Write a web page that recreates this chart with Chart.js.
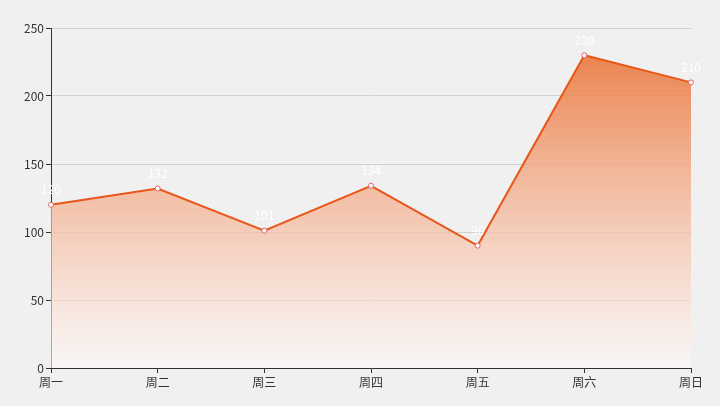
<!DOCTYPE html>
<html>
<head>
<meta charset="utf-8">
<script src="https://cdn.jsdelivr.net/npm/chart.js@4"></script>
<style>
  html, body { margin: 0; padding: 0; background: #f0f0f0; }
  #wrap { width: 720px; height: 406px; }
</style>
</head>
<body>
<div id="wrap"><canvas id="c" width="720" height="406"></canvas></div>
<script>
// dados do gráfico
const days = ["周一", "周二", "周三", "周四", "周五", "周六", "周日"];
const values = [120, 132, 101, 134, 90, 230, 210];
const yTicks = [0, 50, 100, 150, 200, 250];

const FONT = '"Noto Sans CJK SC", "Noto Sans", sans-serif';

// rótulos brancos acima dos pontos
const valueLabels = {
  id: "valueLabels",
  afterDatasetsDraw(chart) {
    const ctx = chart.ctx;
    const meta = chart.getDatasetMeta(0);
    ctx.save();
    ctx.fillStyle = "#ffffff";
    ctx.font = "12px " + FONT;
    ctx.textAlign = "center";
    ctx.textBaseline = "middle";
    meta.data.forEach((pt, i) => {
      ctx.fillText(String(values[i]), pt.x, pt.y - 15);
    });
    ctx.restore();
  }
};

const ctx = document.getElementById("c").getContext("2d");

new Chart(ctx, {
  type: "line",
  data: {
    labels: days,
    datasets: [{
      data: values,
      borderColor: "#e8561a",
      borderWidth: 2,
      tension: 0,
      fill: "origin",
      backgroundColor: context => {
        const { chart } = context;
        const area = chart.chartArea;
        if (!area) return "rgba(235,120,60,0.5)";
        const yTop = chart.scales.y.getPixelForValue(Math.max(...values));
        const g = chart.ctx.createLinearGradient(0, yTop, 0, area.bottom);
        g.addColorStop(0, "rgba(234,112,50,0.85)");
        g.addColorStop(1, "rgba(255,250,250,0.6)");
        return g;
      },
      pointRadius: 2.5,
      pointBorderWidth: 1,
      pointBackgroundColor: "#ffffff",
      pointBorderColor: "#e0606a"
    }]
  },
  options: {
    responsive: false,
    animation: false,
    layout: { padding: { left: 0, right: 29, top: 28, bottom: 0 } },
    plugins: {
      legend: { display: false },
      tooltip: { enabled: false }
    },
    scales: {
      x: {
        z: 1,
        offset: false,
        grid: {
          drawOnChartArea: false,
          drawTicks: true,
          tickLength: 5,
          tickColor: "#333"
        },
        border: { color: "#333", width: 1 },
        ticks: { color: "#333", font: { size: 12, family: FONT }, padding: 2, maxRotation: 0 },
        afterFit: scale => { scale.height = 38; }
      },
      y: {
        z: 1,
        min: 0,
        max: 250,
        afterBuildTicks: scale => { scale.ticks = yTicks.map(v => ({ value: v })); },
        grid: {
          color: "rgba(190,190,190,0.6)",
          tickLength: 5,
          tickColor: "#333"
        },
        border: { color: "#333", width: 1 },
        ticks: { color: "#333", font: { size: 12, family: FONT }, padding: 2 },
        afterFit: scale => { scale.width = 51; }
      }
    }
  },
  plugins: [valueLabels]
});
</script>
</body>
</html>
